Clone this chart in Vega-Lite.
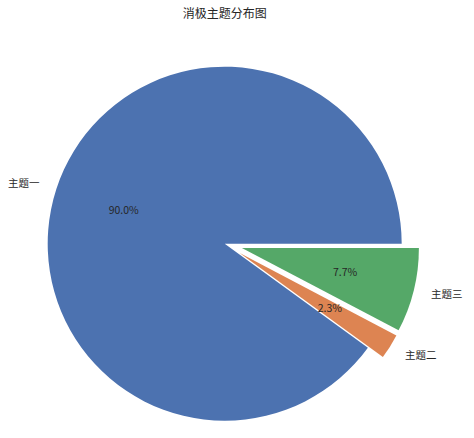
{
  "$schema": "https://vega.github.io/schema/vega-lite/v6.json",
  "width": 354,
  "height": 354,
  "autosize": {"type": "none"},
  "padding": {"left": 47.7, "top": 66.7, "right": 72.3, "bottom": 17.3},
  "background": "white",
  "title": {
    "text": "消极主题分布图",
    "fontSize": 12,
    "fontWeight": "normal",
    "font": "Noto Sans CJK SC",
    "color": "#262626",
    "anchor": "middle",
    "offset": 46
  },
  "data": {
    "values": [
      {"topic": "主题一", "value": 90.0, "idx": 1},
      {"topic": "主题二", "value": 2.3, "idx": 2},
      {"topic": "主题三", "value": 7.7, "idx": 3}
    ]
  },
  "transform": [
    {"stack": "value", "groupby": [], "sort": [{"field": "idx"}], "as": ["start", "end"]},
    {"calculate": "(datum.start + datum.end) / 2", "as": "mid"},
    {"calculate": "format(datum.value, '.1f') + '%'", "as": "pct"}
  ],
  "config": {
    "view": {"stroke": null},
    "text": {"font": "Noto Sans CJK SC", "fontSize": 10.5, "color": "#262626", "baseline": "middle"}
  },
  "layer": [
    {
      "transform": [{"filter": "datum.topic === '主题一'"}],
      "mark": {"type": "arc", "color": "#4C72B0"},
      "encoding": {
        "theta": {"field": "start", "type": "quantitative", "scale": {"domain": [0, 100], "range": [1.5707963, -4.712389]}},
        "theta2": {"field": "end"}
      }
    },
    {
      "transform": [{"filter": "datum.topic === '主题二'"}],
      "mark": {"type": "arc", "color": "#DD8452", "xOffset": 15.0, "yOffset": 9.35},
      "encoding": {
        "theta": {"field": "start", "type": "quantitative", "scale": {"domain": [0, 100], "range": [1.5707963, -4.712389]}},
        "theta2": {"field": "end"}
      }
    },
    {
      "transform": [{"filter": "datum.topic === '主题三'"}],
      "mark": {"type": "arc", "color": "#55A868", "xOffset": 17.2, "yOffset": 4.25},
      "encoding": {
        "theta": {"field": "start", "type": "quantitative", "scale": {"domain": [0, 100], "range": [1.5707963, -4.712389]}},
        "theta2": {"field": "end"}
      }
    },
    {
      "transform": [{"filter": "datum.topic === '主题一'"}],
      "mark": {"type": "text", "radius": 106.2, "align": "center"},
      "encoding": {
        "theta": {"field": "mid", "type": "quantitative", "scale": {"domain": [0, 100], "range": [1.5707963, -4.712389]}},
        "text": {"field": "pct"}
      }
    },
    {
      "transform": [{"filter": "datum.topic === '主题二'"}],
      "mark": {"type": "text", "radius": 106.2, "align": "center", "xOffset": 15.0, "yOffset": 9.35},
      "encoding": {
        "theta": {"field": "mid", "type": "quantitative", "scale": {"domain": [0, 100], "range": [1.5707963, -4.712389]}},
        "text": {"field": "pct"}
      }
    },
    {
      "transform": [{"filter": "datum.topic === '主题三'"}],
      "mark": {"type": "text", "radius": 106.2, "align": "center", "xOffset": 17.2, "yOffset": 4.25},
      "encoding": {
        "theta": {"field": "mid", "type": "quantitative", "scale": {"domain": [0, 100], "range": [1.5707963, -4.712389]}},
        "text": {"field": "pct"}
      }
    },
    {
      "transform": [{"filter": "datum.topic === '主题一'"}],
      "mark": {"type": "text", "radius": 194.7, "align": "right"},
      "encoding": {
        "theta": {"field": "mid", "type": "quantitative", "scale": {"domain": [0, 100], "range": [1.5707963, -4.712389]}},
        "text": {"field": "topic"}
      }
    },
    {
      "transform": [{"filter": "datum.topic === '主题二'"}],
      "mark": {"type": "text", "radius": 194.7, "align": "left", "xOffset": 15.0, "yOffset": 9.35},
      "encoding": {
        "theta": {"field": "mid", "type": "quantitative", "scale": {"domain": [0, 100], "range": [1.5707963, -4.712389]}},
        "text": {"field": "topic"}
      }
    },
    {
      "transform": [{"filter": "datum.topic === '主题三'"}],
      "mark": {"type": "text", "radius": 194.7, "align": "left", "xOffset": 17.2, "yOffset": 4.25},
      "encoding": {
        "theta": {"field": "mid", "type": "quantitative", "scale": {"domain": [0, 100], "range": [1.5707963, -4.712389]}},
        "text": {"field": "topic"}
      }
    }
  ]
}
